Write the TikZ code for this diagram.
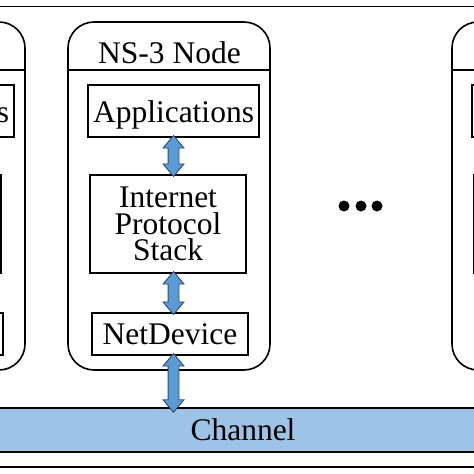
\documentclass[tikz,border=0pt]{standalone}
\usepackage{fontspec}
\setmainfont{Liberation Serif}
\usetikzlibrary{shapes.arrows,calc}
\definecolor{chanblue}{HTML}{9DC3E6}
\definecolor{arrblue}{HTML}{5B9BD5}
\definecolor{arrline}{HTML}{2E4A72}
\newcommand\dblarrow[2]{\path let \p1=#1, \p2=#2, \n1={veclen(\x2-\x1,\y2-\y1)} in #1 -- #2 node[midway, dblarr, minimum height=\n1+4pt]{};}
\newcommand\nsnode{%
  \node[outerbox, minimum width=202pt, minimum height=348pt] (box) at (169,196) {};
  \draw[heavy] ([yshift=-49pt]box.north west) -- ([yshift=-49pt]box.north east);
  \node[bigtext, anchor=base] (title) at (169.5,63) {NS-3 Node};
  \node[layerbox, minimum width=171pt, minimum height=52pt, text height=22pt, text depth=0pt] (app) at (173.5,111) {Applications};
  \node[layerbox, minimum width=156pt, minimum height=98pt] (ips) at (168,224) {Internet\\Protocol\\Stack};
  \node[layerbox, minimum width=156pt, minimum height=42pt] (nd) at (170,334) {NetDevice};
  \dblarrow{(app.south)}{(app.south |- ips.north)}
  \dblarrow{(app.south |- ips.south)}{(app.south |- nd.north)}
}
\begin{document}
\begin{tikzpicture}[x=1pt,y=-1pt,
  heavy/.style={line width=1.6pt},
  outerbox/.style={draw, line width=1.6pt, rounded corners=26pt, inner sep=0pt},
  bigtext/.style={font=\fontsize{31.5}{26.5}\selectfont, inner sep=0pt},
  layerbox/.style={draw, line width=1.1pt, inner sep=0pt, align=center, font=\fontsize{31.5}{26.5}\selectfont},
  dblarr/.style={double arrow, draw=arrline, fill=arrblue, line width=0.9pt, inner xsep=0pt, inner ysep=5pt, double arrow head extend=5pt, double arrow tip angle=80, rotate=90},
  chanbox/.style={draw, fill=chanblue, line width=1.6pt, inner sep=0pt},
]
\useasboundingbox (0,0) rectangle (474,474);
\clip (0,0) rectangle (474,474);
% outer frame lines
\coordinate (tl) at (-5,6.5);
\coordinate (tr) at (479,6.5);
\coordinate (bl) at (-5,467);
\coordinate (br) at (479,467);
\draw[heavy] (tl) -- (tr);
\draw[heavy] (bl) -- (br);
% channel
\node[chanbox, minimum width=490pt, minimum height=44pt] (chan) at (237,430) {};
\node[bigtext, anchor=base] (chantext) at (243,440) {Channel};
% nodes
\begin{scope}[xshift=-245pt, name prefix=L-]
  \nsnode
\end{scope}
\begin{scope}
  \nsnode
\end{scope}
\begin{scope}[xshift=384pt, name prefix=R-]
  \nsnode
\end{scope}
\dblarrow{(app.south |- nd.south)}{([yshift=-3pt]app.south |- chan.north)}
% ellipsis
\fill (344,206) circle (5.5);
\fill (361,206) circle (5.5);
\fill (377,206) circle (5.5);
\end{tikzpicture}
\end{document}
